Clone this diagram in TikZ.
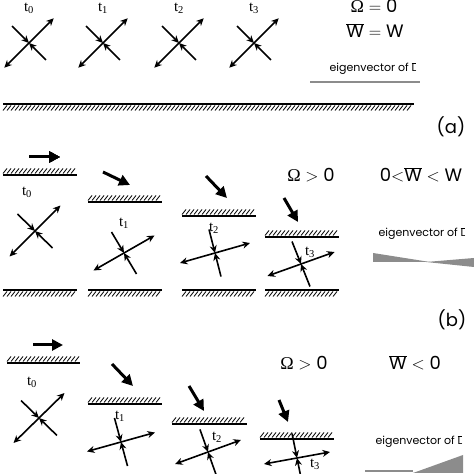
\documentclass[tikz,border=0pt]{standalone}
\usepackage{fontspec}
\setmainfont{Poppins}
\newfontfamily\serf{Liberation Serif}
\usetikzlibrary{arrows.meta}
\definecolor{wedgegray}{RGB}{140,140,140}
\tikzstyle{longax} = [line width=1.6pt,{Stealth[length=7.5pt,width=7pt]}-{Stealth[length=7.5pt,width=7pt]}]
\tikzstyle{shortax} = [line width=1.6pt,-{Stealth[length=7.5pt,width=7pt]}]
\tikzstyle{shear} = [line width=3pt,-{Triangle[length=11pt,width=11pt]}]
\tikzstyle{wall} = [line width=1.8pt]
\tikzstyle{hatch} = [line width=0.8pt]
\tikzstyle{tlabel} = [font=\serf\fontsize{15}{15}\selectfont]
\tikzstyle{eqn} = [anchor=base,font=\fontsize{18}{20}\selectfont]
\tikzstyle{eig} = [anchor=base,font=\fontsize{11}{13}\selectfont]

% wall: x from, x to, height, offset of the hatching
\newcommand\hatchwall[4]{%
  \draw[wall] (#1,#3) -- (#2,#3);
  \pgfmathsetmacro\hatchend{#2-#1-5}
  \foreach \h in {0,4,...,\hatchend}
    \draw[hatch] (#1+\h,#3+#4) -- ++(4,5);
}
% cross: centre, long axis angle and half length, short axis angle and length
\newcommand\straincross[6]{%
  \begin{scope}[shift={(#1,#2)}]
    \draw[longax] (#3+180:#4) -- (#3:#4);
    \draw[shortax] (#5:#6) -- (0,0);
    \draw[shortax] (#5+180:#6) -- (0,0);
  \end{scope}
}
\newcommand\wbar{$\overline{\mbox{W}}$}
\newcommand\lbar{$\overline{\mbox{L}}$}

\begin{document}
\begin{tikzpicture}[x=1pt,y=1pt]
\useasboundingbox (0,0) rectangle (474,474);

% (a) no rotation
\foreach \cx/\i in {29/0,103/1,179/2,254/3} {
  \node[tlabel] (ta\i) at (\cx,466) {t\textsubscript{\i}};
  \straincross{\cx}{431}{45}{35}{135}{24}
}
\hatchwall{3}{414}{370}{-6.5}
\node[eqn] (omegaa) at (374,461) {{\serf Ω} $=$ 0};
\node[eqn] (wa) at (375,436) {\wbar{} $=$ W};
\node[eig] (eiga) at (373,402) {eigenvector of \lbar};
\draw[line width=1.8pt,wedgegray] (310,392) -- (420,392);
\node[eqn,anchor=center] (laba) at (451,347) {(a)};

% (b) 0 < Wbar < W
\hatchwall{3}{77}{299}{1.5}
\hatchwall{88}{162}{272}{1.5}
\hatchwall{182}{256}{258}{1.5}
\hatchwall{265}{339}{237}{1.5}
\foreach \x in {3,88,182,265}
  \hatchwall{\x}{\x+74}{184}{-6.5}
\draw[shear] (29,317) -- (60,317);
\draw[shear] (103,302) -- (130,289);
\draw[shear] (206,298) -- (227,276);
\draw[shear] (284,276) -- (298,252);
\node[tlabel] (tb0) at (27,282) {t\textsubscript{0}};
\node[tlabel] (tb1) at (124,251) {t\textsubscript{1}};
\node[tlabel] (tb2) at (214,246) {t\textsubscript{2}};
\node[tlabel] (tb3) at (310,222) {t\textsubscript{3}};
\straincross{35}{243}{45}{36}{136}{24.4}
\straincross{124}{221}{29.8}{35.2}{120.8}{24.4}
\straincross{215}{221}{15.9}{36.4}{104.3}{24.3}
\straincross{301}{210}{19.7}{35.6}{111.8}{24.2}
\node[eqn] (omegab) at (311,292) {{\serf Ω} $>$ 0};
\node[eqn] (wb) at (421,292) {0$<$\wbar{} $<$ W};
\node[eig] (eigb) at (422,237) {eigenvector of \lbar};
\fill[wedgegray] (373,221) -- (373,212) -- (430,212) -- cycle;
\fill[wedgegray] (426,212) -- (474,216) -- (474,207) -- cycle;
\node[eqn,anchor=center] (labb) at (452,154) {(b)};

% (c) Wbar < 0
\hatchwall{7}{80}{111}{1.5}
\hatchwall{88}{162}{70}{1.5}
\hatchwall{172}{247}{50}{1.5}
\hatchwall{260}{334}{35}{1.5}
\draw[shear] (33,129) -- (63,129);
\draw[shear] (112,110) -- (133,88);
\draw[shear] (189,88) -- (204,63);
\draw[shear] (279,74) -- (288,52);
\node[tlabel] (tc0) at (32,92) {t\textsubscript{0}};
\node[tlabel] (tc1) at (120,58) {t\textsubscript{1}};
\node[tlabel] (tc2) at (217,37) {t\textsubscript{2}};
\node[tlabel] (tc3) at (315,10) {t\textsubscript{3}};
\straincross{39}{56}{44.4}{35.7}{135.8}{25}
\straincross{121}{32}{15.6}{35.3}{105.2}{24.9}
\straincross{208}{22}{20}{35.1}{109.6}{23.9}
\straincross{297}{16}{10.3}{33.5}{101.5}{25}
\node[eqn] (omegac) at (304,104) {{\serf Ω} $>$ 0};
\node[eqn] (wc) at (415,104) {\wbar{} $<$ 0};
\node[eig] (eigc) at (419,29) {eigenvector of \lbar};
\fill[wedgegray] (365,4) rectangle (413,2);
\fill[wedgegray] (413,1) -- (463,19) -- (463,1) -- cycle;
\end{tikzpicture}
\end{document}
